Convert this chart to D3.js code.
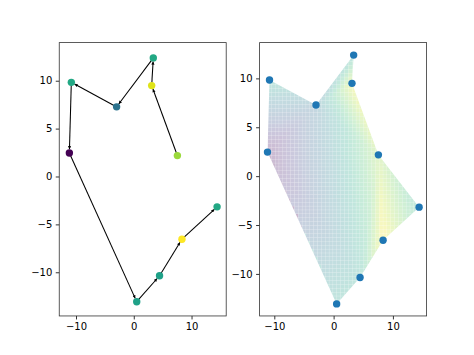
<!DOCTYPE html>
<html><head><meta charset="utf-8">
<script src="https://cdn.jsdelivr.net/npm/d3@7"></script>
<style>body{margin:0;background:#fff}svg{display:block}text{font-family:"DejaVu Sans",sans-serif;font-size:10px;fill:#000}</style>
</head><body>
<script>
// data: path of points (order = arrow order), colour values
const xs = [7.55, 3.1, 3.38, -2.97, -10.81, -11.15, 0.51, 4.46, 8.34, 14.42];
const ys = [2.18, 9.49, 12.38, 7.27, 9.83, 2.46, -13.07, -10.37, -6.55, -3.17];
const vals = [0.85, 0.95, 0.6, 0.38, 0.6, 0.0, 0.57, 0.57, 1.0, 0.6];
const xTicks = [-10, 0, 10];
const yTicks = [-10, -5, 0, 5, 10];

const W = 474, H = 355;
const yTop = 42.6, yBot = 315.95;
const panels = [
  {left: 59.25, right: 226.2, xd: [-12.9, 16.0], yd: [-14.56, 13.98]},
  {left: 259.6, right: 426.6, xd: [-12.48, 15.68], yd: [-14.3, 13.66]}
];
const svg = d3.select("body").append("svg").attr("width", W).attr("height", H);
svg.append("rect").attr("width", W).attr("height", H).attr("fill", "#fff");
const defs = svg.append("defs");
const fmt = d => d < 0 ? "\u2212" + Math.abs(d) : String(d);
const pts = xs.map((x, i) => [x, ys[i]]);

function axes(p) {
  p.x = d3.scaleLinear().domain(p.xd).range([p.left, p.right]);
  p.y = d3.scaleLinear().domain(p.yd).range([yBot, yTop]);
  p.g = svg.append("g");
}
function frame(p) {
  const g = svg.append("g");
  const xa = g.append("g").attr("transform", `translate(0,${yBot})`)
    .call(d3.axisBottom(p.x).tickValues(xTicks).tickFormat(fmt).tickSizeOuter(0).tickSize(3.5).tickPadding(3.5));
  const ya = g.append("g").attr("transform", `translate(${p.left},0)`)
    .call(d3.axisLeft(p.y).tickValues(yTicks).tickFormat(fmt).tickSizeOuter(0).tickSize(3.5).tickPadding(3.5));
  [xa, ya].forEach(a => {
    a.select(".domain").remove();
    a.selectAll("line").attr("stroke", "#000").attr("stroke-width", 0.8);
    a.selectAll("text").attr("font-size", "10px").attr("font-family", "DejaVu Sans").attr("fill", "#000");
  });
  g.append("rect").attr("x", p.left).attr("y", yTop).attr("width", p.right - p.left)
    .attr("height", yBot - yTop).attr("fill", "none").attr("stroke", "#333").attr("stroke-width", 0.8);
}

// ---- left panel ----
const L = panels[0]; axes(L);
defs.append("marker").attr("id", "ah").attr("viewBox", "0 0 10 10").attr("refX", 10).attr("refY", 5)
  .attr("markerWidth", 3.6).attr("markerHeight", 3.2).attr("markerUnits", "userSpaceOnUse").attr("orient", "auto")
  .append("path").attr("d", "M0,0 L10,5 L0,10 z").attr("fill", "#000");
for (let i = 0; i < pts.length - 1; i++) {
  const x1 = L.x(pts[i][0]), y1 = L.y(pts[i][1]);
  const x2 = L.x(pts[i + 1][0]), y2 = L.y(pts[i + 1][1]);
  const dx = x2 - x1, dy = y2 - y1, len = Math.hypot(dx, dy);
  const ux = dx / len, uy = dy / len;
  L.g.append("line").attr("x1", x1 + ux * 3).attr("y1", y1 + uy * 3)
    .attr("x2", x2 - ux * 3.6).attr("y2", y2 - uy * 3.6)
    .attr("stroke", "#000").attr("stroke-width", 1.05).attr("marker-end", "url(#ah)");
}
L.g.selectAll("circle.pt").data(pts).join("circle").attr("class", "pt")
  .attr("cx", d => L.x(d[0])).attr("cy", d => L.y(d[1])).attr("r", 3.7)
  .attr("fill", (d, i) => d3.interpolateViridis(vals[i]));
frame(L);

// ---- right panel ----
const R = panels[1]; axes(R);
const del = d3.Delaunay.from(pts);
const tris = [];
for (let t = 0; t < del.triangles.length; t += 3) tris.push([del.triangles[t], del.triangles[t + 1], del.triangles[t + 2]]);
function interp(px, py) {
  for (const [a, b, c] of tris) {
    const [x1, y1] = pts[a], [x2, y2] = pts[b], [x3, y3] = pts[c];
    const den = (y2 - y3) * (x1 - x3) + (x3 - x2) * (y1 - y3);
    const l1 = ((y2 - y3) * (px - x3) + (x3 - x2) * (py - y3)) / den;
    const l2 = ((y3 - y1) * (px - x3) + (x1 - x3) * (py - y3)) / den;
    const l3 = 1 - l1 - l2;
    if (l1 >= -1e-9 && l2 >= -1e-9 && l3 >= -1e-9) return l1 * vals[a] + l2 * vals[b] + l3 * vals[c];
  }
  return null;
}
const poly = pts.map(d => [R.x(d[0]), R.y(d[1])]);
defs.append("clipPath").attr("id", "pc").append("path").attr("d", "M" + poly.join("L") + "Z");
const xmin = d3.min(xs), xmax = d3.max(xs), ymin = d3.min(ys), ymax = d3.max(ys);
const sx = 0.65, sy = 0.4;
const cells = [];
for (let cx = xmin; cx <= xmax + sx; cx += sx) {
  for (let cy = ymin; cy <= ymax + sy; cy += sy) {
    const mx = Math.min(Math.max(cx + sx / 2, xmin), xmax), my = Math.min(Math.max(cy + sy / 2, ymin), ymax);
    let v = interp(mx, my);
    if (v === null) v = vals[del.find(mx, my)];
    cells.push({cx, cy, v});
  }
}
const cg = R.g.append("g").attr("clip-path", "url(#pc)");
cg.selectAll("rect").data(cells).join("rect")
  .attr("x", d => R.x(d.cx)).attr("y", d => R.y(d.cy + sy))
  .attr("width", R.x(xmin + sx) - R.x(xmin) - 0.2)
  .attr("height", R.y(ymin) - R.y(ymin + sy) - 0.2)
  .attr("fill", d => d3.interpolateViridis(d.v)).attr("fill-opacity", 0.28);
R.g.selectAll("circle.pt").data(pts).join("circle").attr("class", "pt")
  .attr("cx", d => R.x(d[0])).attr("cy", d => R.y(d[1])).attr("r", 3.7).attr("fill", "#1f77b4");
frame(R);
</script>
</body></html>
